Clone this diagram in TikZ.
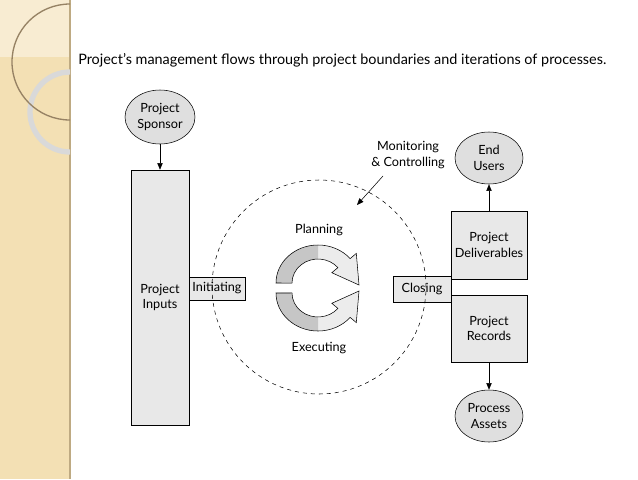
\documentclass[tikz,border=0pt]{standalone}
\usepackage{fontspec}
\setmainfont{Lato}
\usetikzlibrary{shapes.geometric,arrows.meta}
\begin{document}
\begin{tikzpicture}[x=0.75pt,y=-0.75pt,
  box/.style={draw,fill=gray!18,align=center,inner sep=0pt,font=\fontsize{9.5}{11.5}\selectfont},
  ell/.style={draw,ellipse,fill=gray!25,align=center,font=\fontsize{9.5}{11.5}\selectfont,inner sep=0pt},
  arr/.style={-{Triangle[length=5pt,width=4pt]}},
  txt/.style={align=center,font=\fontsize{9.5}{11.5}\selectfont,inner sep=0pt}]
\useasboundingbox (0,0) rectangle (638,479);
% left decoration
\fill[color={rgb,255:red,243;green,224;blue,180}] (0,0) rectangle (70,479);
\fill[color={rgb,255:red,248;green,236;blue,210}] (0,0) rectangle (70,57);
\draw[color={rgb,255:red,190;green,170;blue,130},line width=1.2pt] (70,0) -- (70,479);
\begin{scope}
\clip (0,0) rectangle (70,479);
\draw[line width=4pt,color=gray!30] (70,112) circle (40);
\draw[line width=1pt,color={rgb,255:red,150;green,130;blue,100}] (70,62) circle (58);
\end{scope}
% title
\node[anchor=west,inner sep=0pt,font=\fontsize{10.8}{13}\selectfont] (title) at (78,60) {Project’s management flows through project boundaries and iterations of processes.};
% nodes
\node[box,minimum width=58*0.75pt,minimum height=255*0.75pt] (inputs) at (160,297.5) {Project\\Inputs};
\node[ell,minimum width=70*0.75pt,minimum height=54*0.75pt] (sponsor) at (160,117) {Project\\Sponsor};
\node[box,minimum width=56*0.75pt,minimum height=23*0.75pt] (init) at (217,288.5) {Initiating};
\node[box,minimum width=58*0.75pt,minimum height=26*0.75pt] (closing) at (422,289) {Closing};
\node[box,minimum width=76*0.75pt,minimum height=68*0.75pt] (deliv) at (489,245) {Project\\Deliverables};
\node[box,minimum width=76*0.75pt,minimum height=67*0.75pt] (records) at (489,328.5) {Project\\Records};
\node[ell,minimum width=68*0.75pt,minimum height=52*0.75pt] (users) at (489,158) {End\\Users};
\node[ell,minimum width=68*0.75pt,minimum height=52*0.75pt] (assets) at (489,416) {Process\\Assets};
\node[draw,dashed,circle,minimum size=214*0.75pt] (cycle) at (319,287) {};
\node[txt] (plan) at (319,230) {Planning};
\node[txt] (exec) at (319,348) {Executing};
\node[txt] (mon) at (408,155) {Monitoring\\\& Controlling};
\coordinate (mtip) at (357,205);
\draw[arr] (383,176) -- (mtip);
\draw[arr] (sponsor) -- (inputs);
\draw[arr] (deliv) -- (users);
\draw[arr] (records) -- (assets);
% cycle arrows
\def\cyc{(-42,0) arc[start angle=180,end angle=40,x radius=42,y radius=38] -- (38.3,29.6) -- (41,-2) -- (13.8,10.3) -- (19.9,15.4) arc[start angle=40,end angle=180,x radius=26,y radius=24] -- cycle}
\begin{scope}[shift={(318,283)},yscale=-1]
\fill[gray!15] \cyc;
\begin{scope}\clip (-50,-5) rectangle (0,50); \fill[gray!45] \cyc; \end{scope}
\draw \cyc;
\end{scope}
\begin{scope}[shift={(318,293)}]
\fill[gray!15] \cyc;
\begin{scope}\clip (-50,-5) rectangle (0,50); \fill[gray!45] \cyc; \end{scope}
\draw \cyc;
\end{scope}
\end{tikzpicture}
\end{document}
